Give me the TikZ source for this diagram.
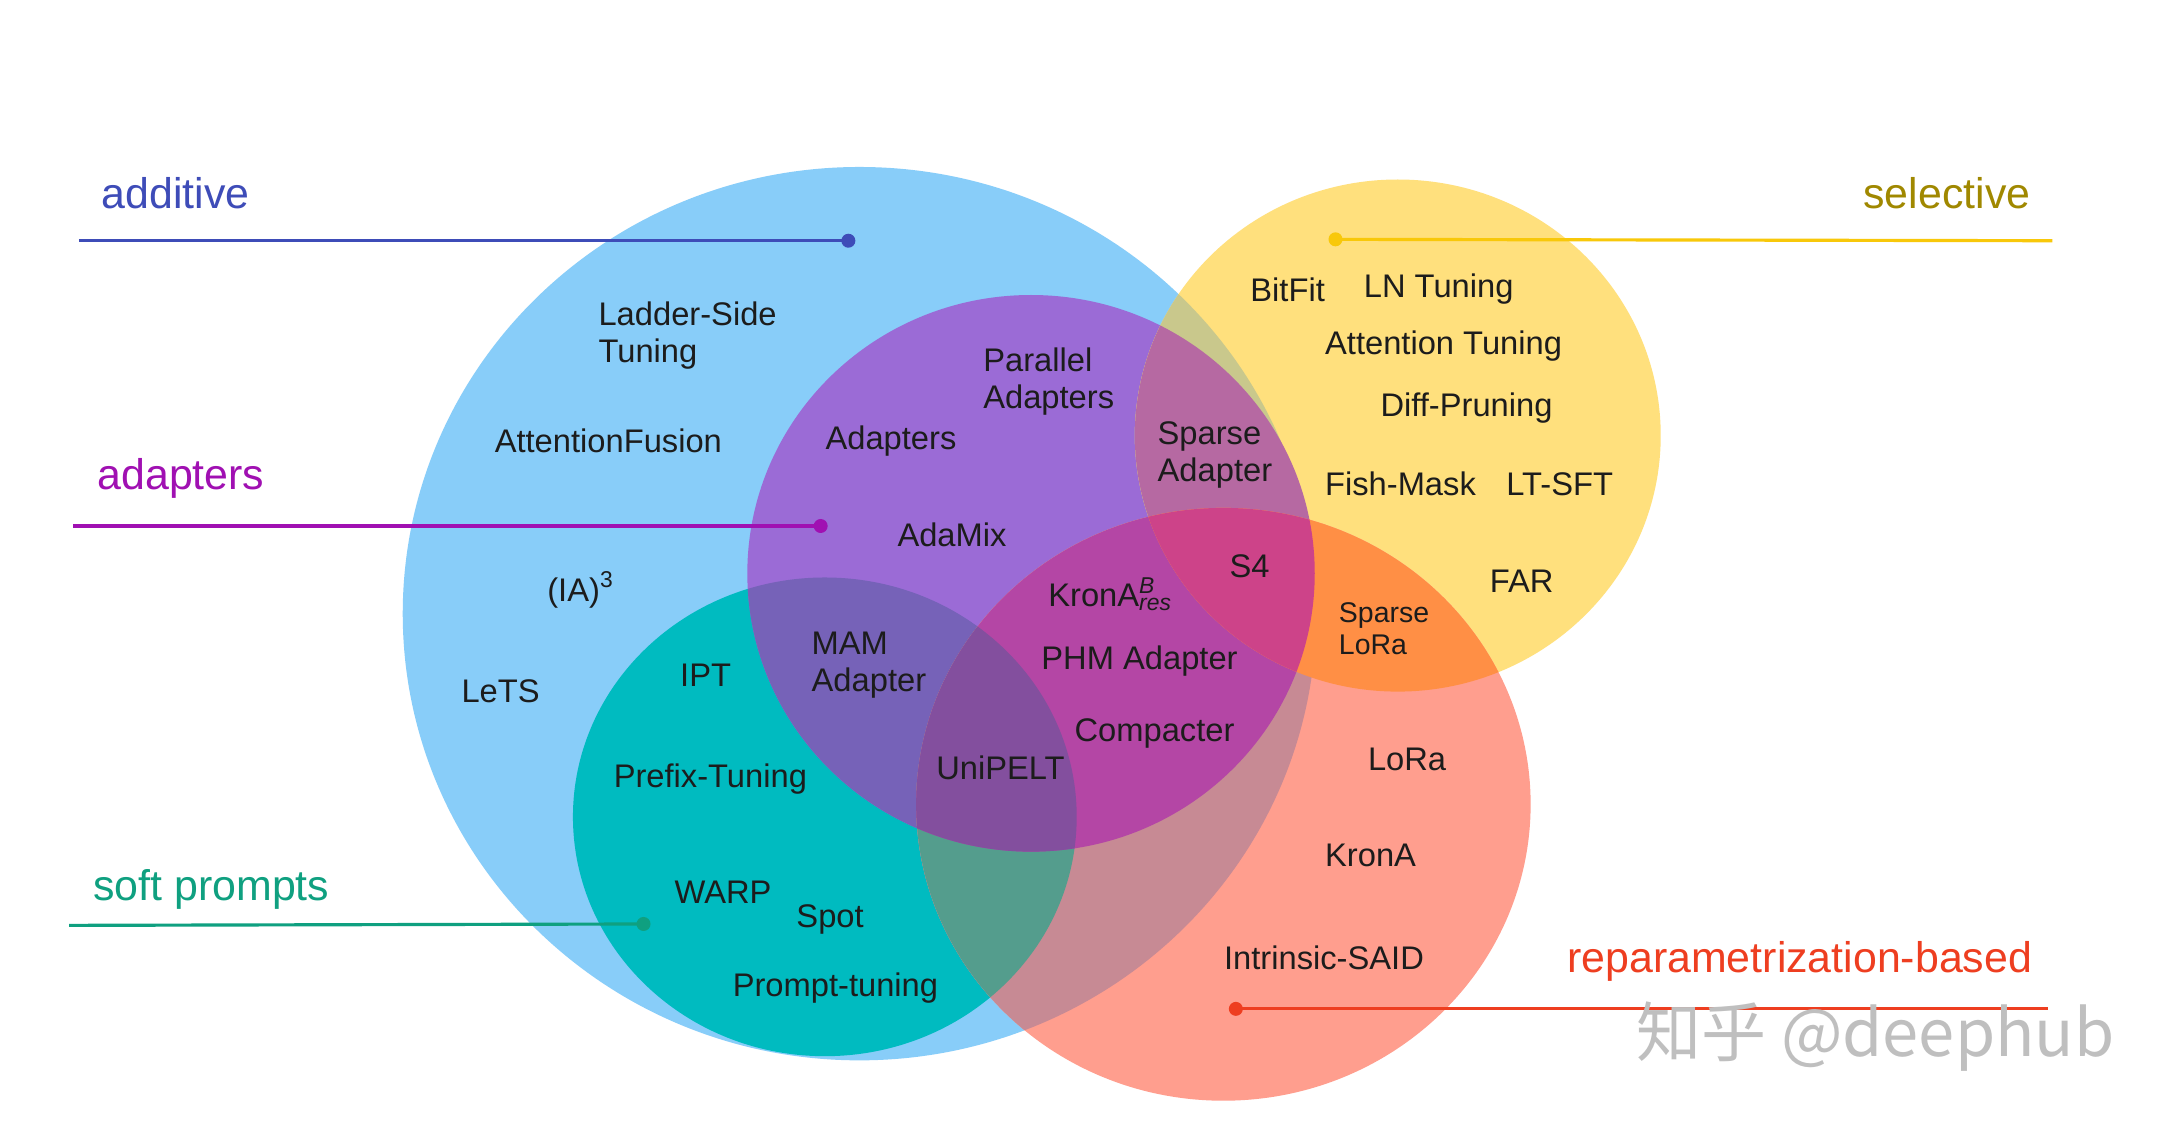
\documentclass[tikz,border=0pt]{standalone}
\usepackage{fontspec}
\setmainfont{Liberation Sans}
\newfontfamily\cjk{Noto Sans CJK SC}
\usepackage{xcolor}
\usepackage{tikz}
\usetikzlibrary{positioning}

\definecolor{cBlue}{RGB}{136,205,249}
\definecolor{cTeal}{RGB}{0,187,192}
\definecolor{cPurple}{RGB}{155,107,214}
\definecolor{cMam}{RGB}{118,98,184}
\definecolor{cYellow}{RGB}{255,224,125}
\definecolor{cYB}{RGB}{201,200,140}
\definecolor{cYP}{RGB}{182,105,162}
\definecolor{cRed}{RGB}{255,158,142}
\definecolor{cRB}{RGB}{199,138,148}
\definecolor{cRT}{RGB}{84,157,141}
\definecolor{cRP}{RGB}{180,70,165}
\definecolor{cRPT}{RGB}{131,79,158}
\definecolor{cRY}{RGB}{255,143,69}
\definecolor{cRYP}{RGB}{205,67,137}
\definecolor{txt}{RGB}{28,28,28}
\definecolor{cAdd}{RGB}{62,76,184}
\definecolor{cAdp}{RGB}{160,16,178}
\definecolor{cSoft}{RGB}{15,160,128}
\definecolor{cSel}{RGB}{248,200,10}
\definecolor{cSelT}{RGB}{160,136,0}
\definecolor{cRep}{RGB}{238,62,32}

\begin{document}
\begin{tikzpicture}
                    [x=0.01384cm, y=-0.01391cm,
                    m/.style={anchor=west, inner sep=0pt,
                        align=left, text=txt,
                        font=\fontsize{9.3}{10.6}\selectfont},
                    ms/.style={m,
                        font=\fontsize{8.1}{9.1}\selectfont},
                    cat/.style={anchor=west, inner sep=0pt,
                        font=\fontsize{12.2}{14}\selectfont},
                    dot/.style={circle, fill=#1,
                        inner sep=0pt, minimum size=0.14cm},
                    catline/.style={line width=0.9pt}]

                    \def\additive{(621,441) ellipse [x radius=330, y radius=321]}
                    \def\adapters{(745,412) ellipse [x radius=205, y radius=200]}
                    \def\softp{(596,587) ellipse [x radius=182, y radius=172]}
                    \def\selective{(1010,313) ellipse [x radius=190, y radius=184]}
                    \def\reparam{(884,578) ellipse [x radius=222, y radius=213]}

                    \fill[white] (0,0) rectangle (1568,811);
                    \useasboundingbox (0,0) rectangle (1568,811);

                    % sets
                    \fill[cBlue] \additive;
                    \fill[cTeal] \softp;
                    \fill[cPurple] \adapters;
                    \begin{scope}
                        \clip \softp;
                        \fill[cMam] \adapters;
                    \end{scope}
                    \fill[cYellow] \selective;
                    \begin{scope}
                        \clip \selective;
                        \fill[cYB] \additive;
                        \fill[cYP] \adapters;
                    \end{scope}
                    \fill[cRed] \reparam;
                    \begin{scope}
                        \clip \reparam;
                        \fill[cRB] \additive;
                        \fill[cRT] \softp;
                        \fill[cRP] \adapters;
                        \begin{scope}
                            \clip \softp;
                            \fill[cRPT] \adapters;
                        \end{scope}
                        \fill[cRY] \selective;
                        \begin{scope}
                            \clip \selective;
                            \fill[cRYP] \adapters;
                        \end{scope}
                    \end{scope}

                    % methods
                    \node[m] (lst) at (432,241) {Ladder-Side\\Tuning};
                    \node[m] (af) at (357,317) {AttentionFusion};
                    \node[m] (par) at (710,274) {Parallel\\Adapters};
                    \node[m] (adp) at (596,317) {Adapters};
                    \node[m] (spa) at (836,327) {Sparse\\Adapter};
                    \node[m] (bit) at (903,208) {BitFit};
                    \node[m] (lnt) at (985,208) {LN Tuning};
                    \node[m] (att) at (957,249) {Attention Tuning};
                    \node[m] (dif) at (997,293) {Diff-Pruning};
                    \node[m] (fis) at (957,348) {Fish-Mask};
                    \node[m] (lts) at (1088,348) {LT-SFT};
                    \node[m] (ada) at (648,384) {AdaMix};
                    \node[m] (ia3) at (395,424) {(IA)\textsuperscript{3}};
                    \node[m] (kro) at (757,427)
                        {KronA\rlap{\textsuperscript{\itshape B}}\textsubscript{\itshape res}};
                    \node[m] (s4) at (888,407) {S4};
                    \node[m] (far) at (1076,418) {FAR};
                    \node[ms] (spl) at (967,452) {Sparse\\LoRa};
                    \node[m] (let) at (333,497) {LeTS};
                    \node[m] (ipt) at (491,485) {IPT};
                    \node[m] (mam) at (586,478) {MAM\\Adapter};
                    \node[m] (phm) at (752,475) {PHM Adapter};
                    \node[m] (com) at (776,527) {Compacter};
                    \node[m] (uni) at (676,552) {UniPELT};
                    \node[m] (pre) at (443,560) {Prefix-Tuning};
                    \node[m] (lor) at (988,546) {LoRa};
                    \node[m] (kra) at (957,615) {KronA};
                    \node[m] (war) at (487,641) {WARP};
                    \node[m] (spo) at (575,661) {Spot};
                    \node[m] (pro) at (529,710) {Prompt-tuning};
                    \node[m] (isd) at (884,688) {Intrinsic-SAID};

                    % categories
                    \node[cat, text=cAdd] (addT) at (73,139) {additive};
                    \node[dot=cAdd] (addD) at (613,173) {};
                    \coordinate (addE) at (57,173);
                    \draw[catline, cAdd] (addE) -- (addD.center);

                    \node[cat, text=cAdp] (adpT) at (70,344) {adapters};
                    \node[dot=cAdp] (adpD) at (593,378) {};
                    \coordinate (adpE) at (53,378);
                    \draw[catline, cAdp] (adpE) -- (adpD.center);

                    \node[cat, text=cSoft] (softT) at (67,639) {soft prompts};
                    \node[dot=cSoft] (softD) at (465,664) {};
                    \coordinate (softE) at (50,665);
                    \draw[catline, cSoft] (softE) -- (softD.center);

                    \node[cat, text=cSelT] (selT) at (1346,139) {selective};
                    \node[dot=cSel] (selD) at (965,172) {};
                    \coordinate (selE) at (1483,173);
                    \draw[catline, cSel] (selD.center) -- (selE);

                    \node[cat, text=cRep] (repT) at (1132,691) {reparametrization-based};
                    \node[dot=cRep] (repD) at (893,725) {};
                    \coordinate (repE) at (1480,725);
                    \draw[catline, cRep] (repD.center) -- (repE);

                    \node[anchor=west, inner sep=0pt, text=gray!50,
                        font=\cjk\fontsize{18.5}{22}\selectfont]
                        (wm) at (1182,745) {知乎\ @deephub};
                \end{tikzpicture}
\end{document}
